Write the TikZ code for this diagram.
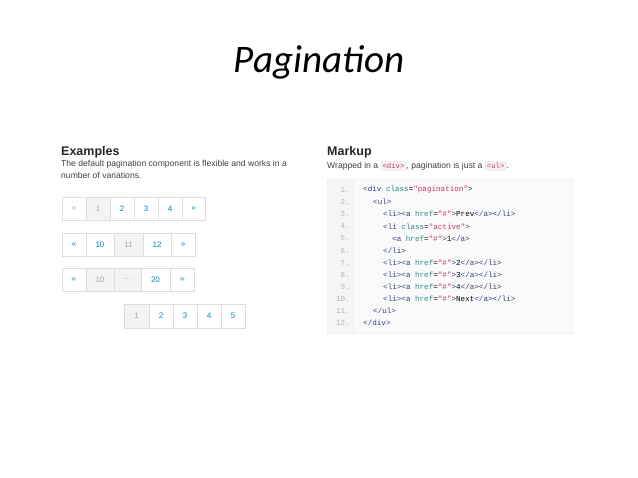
\documentclass[tikz,border=0pt]{standalone}
\usepackage{fontspec}
\setmainfont{Liberation Sans}
\newfontfamily\titlefont{Carlito}
\setmonofont{Liberation Mono}
\definecolor{tg}{HTML}{2F3F7F}
\definecolor{at}{HTML}{2A8A8A}
\definecolor{st}{HTML}{D0306A}
\definecolor{lk}{HTML}{0088CC}
\definecolor{bd}{HTML}{DDDDDD}
\definecolor{act}{HTML}{F3F3F3}
\newcommand{\ctg}[1]{\textcolor{tg}{#1}}
\newcommand{\cat}[1]{\textcolor{at}{#1}}
\newcommand{\cst}[1]{\textcolor{st}{#1}}
\newcommand{\pcell}[7]{\draw[#6] (#1,#3) rectangle (#2,#4); \node[#5] at ({(#1+#2)/2},{(#3+#4)/2}) {#7};}
\begin{document}
\begin{tikzpicture}[x=1pt,y=-1pt,
  cell/.style={draw=bd,line width=0.6pt,fill=white},
  acell/.style={draw=bd,line width=0.6pt,fill=act},
  lbl/.style={font=\fontsize{8}{9}\selectfont,text=lk},
  albl/.style={font=\fontsize{8}{9}\selectfont,text=gray!70},
  code/.style={anchor=west,inner sep=0pt,font=\ttfamily\fontsize{7.6}{8}\selectfont},
  ln/.style={anchor=east,inner sep=0pt,font=\ttfamily\fontsize{7.6}{8}\selectfont,text=gray!60}]
\useasboundingbox (0,0) rectangle (638,478);
\node[font=\titlefont\itshape\fontsize{39}{44}\selectfont] (title) at (319,62) {Pagination};
% Examples
\node[anchor=west,inner sep=0pt,font=\bfseries\fontsize{12.5}{14}\selectfont,text=black!85] (ex) at (61,152) {Examples};
\node[anchor=north west,inner sep=0pt,align=left,font=\fontsize{8.6}{12.5}\selectfont,text=black!75] (exd) at (61,160) {The default pagination component is flexible and works in a\\number of variations.};
% pagination rows
\pcell{62}{86}{197}{220}{albl}{cell}{«}
\pcell{86}{110}{197}{220}{albl}{acell}{1}
\pcell{110}{134}{197}{220}{lbl}{cell}{2}
\pcell{134}{158}{197}{220}{lbl}{cell}{3}
\pcell{158}{182}{197}{220}{lbl}{cell}{4}
\pcell{182}{205}{197}{220}{lbl}{cell}{»}
\pcell{62}{86}{233}{256}{lbl}{cell}{«}
\pcell{86}{114}{233}{256}{lbl}{cell}{10}
\pcell{114}{143}{233}{256}{albl}{acell}{11}
\pcell{143}{171}{233}{256}{lbl}{cell}{12}
\pcell{171}{195}{233}{256}{lbl}{cell}{»}
\pcell{62}{86}{268}{291}{lbl}{cell}{«}
\pcell{86}{114}{268}{291}{albl}{acell}{10}
\pcell{114}{141}{268}{291}{albl}{acell}{\dots}
\pcell{141}{170}{268}{291}{lbl}{cell}{20}
\pcell{170}{194}{268}{291}{lbl}{cell}{»}
\pcell{124}{149}{304}{328}{albl}{acell}{1}
\pcell{149}{173}{304}{328}{lbl}{cell}{2}
\pcell{173}{197}{304}{328}{lbl}{cell}{3}
\pcell{197}{221}{304}{328}{lbl}{cell}{4}
\pcell{221}{245}{304}{328}{lbl}{cell}{5}
% Markup
\node[anchor=west,inner sep=0pt,font=\bfseries\fontsize{12.5}{14}\selectfont,text=black!85] (mk) at (327,152) {Markup};
\node[anchor=west,inner sep=0pt,font=\fontsize{8.6}{10}\selectfont,text=black!75] (mkd) at (327,166) {Wrapped in a
 \tikz[baseline=(c.base)]\node[draw=bd,fill=act,rounded corners=1.5pt,inner sep=1.8pt,font=\ttfamily\fontsize{7.3}{8}\selectfont,text=st](c){<div>};, pagination is just a
 \tikz[baseline=(c.base)]\node[draw=bd,fill=act,rounded corners=1.5pt,inner sep=1.8pt,font=\ttfamily\fontsize{7.3}{8}\selectfont,text=st](c){<ul>};.};
\draw[black!15,fill=black!2,rounded corners=2pt] (327,179) rectangle (573,334);
\fill[black!4] (328,180) rectangle (355,333);
\foreach \i in {1,...,12}{\node[ln] at (350,{190+(\i-1)*12.1}) {\i.};}
\node[code] at (363,190) {\ctg{<div} \cat{class}=\cst{"pagination"}\ctg{>}};
\node[code] at (373,202.1) {\ctg{<ul>}};
\node[code] at (383,214.2) {\ctg{<li><a} \cat{href}=\cst{"\#"}\ctg{>}Prev\ctg{</a></li>}};
\node[code] at (383,226.3) {\ctg{<li} \cat{class}=\cst{"active"}\ctg{>}};
\node[code] at (392,238.4) {\ctg{<a} \cat{href}=\cst{"\#"}\ctg{>}1\ctg{</a>}};
\node[code] at (383,250.5) {\ctg{</li>}};
\node[code] at (383,262.6) {\ctg{<li><a} \cat{href}=\cst{"\#"}\ctg{>}2\ctg{</a></li>}};
\node[code] at (383,274.7) {\ctg{<li><a} \cat{href}=\cst{"\#"}\ctg{>}3\ctg{</a></li>}};
\node[code] at (383,286.8) {\ctg{<li><a} \cat{href}=\cst{"\#"}\ctg{>}4\ctg{</a></li>}};
\node[code] at (383,298.9) {\ctg{<li><a} \cat{href}=\cst{"\#"}\ctg{>}Next\ctg{</a></li>}};
\node[code] at (373,311) {\ctg{</ul>}};
\node[code] at (363,323.1) {\ctg{</div>}};
\end{tikzpicture}
\end{document}
